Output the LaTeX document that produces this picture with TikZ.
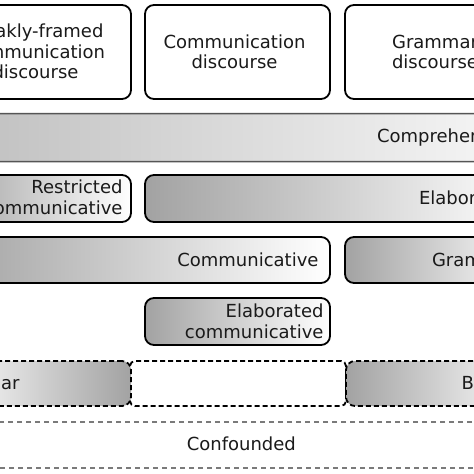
\documentclass[tikz,border=0pt]{standalone}
\usepackage{fontspec}
\setmainfont{DejaVu Sans}
\definecolor{gdark}{HTML}{A2A2A2}
\definecolor{glight}{HTML}{FFFFFF}
\definecolor{cleft}{HTML}{BEBEBE}
\definecolor{cright}{HTML}{F8F8F8}
\definecolor{cborder}{HTML}{555555}
\definecolor{txt}{HTML}{1A1A1A}
\definecolor{confgray}{HTML}{7A7A7A}
\begin{document}
\begin{tikzpicture}[x=1pt,y=-1pt,
  boxbase/.style={inner sep=0pt, outer sep=0pt, anchor=north west},
  solidbox/.style={boxbase, draw=black, line width=1.8pt, rounded corners=9pt},
  shadebox/.style={solidbox, left color=gdark, right color=glight},
  revbox/.style={solidbox, left color=glight, right color=gdark},
  dashbox/.style={dash pattern=on 5pt off 3pt},
  compbox/.style={boxbase, draw=cborder, line width=1.5pt, rounded corners=6pt, left color=cleft, right color=cright},
  confbox/.style={boxbase, draw=confgray, line width=1.3pt, dash pattern=on 5pt off 4pt},
  lbl/.style={inner sep=0pt, outer sep=0pt, text=txt, font=\fontsize{18}{20.7}\selectfont},
]
\useasboundingbox (0,0) rectangle (474,474);
\fill[white] (0,0) rectangle (474,474);
\clip (0,0) rectangle (474,474);

% top row
\node[solidbox, minimum width=184pt, minimum height=94pt] (wf) at (-53,5) {};
\node[solidbox, minimum width=185pt, minimum height=94pt] (cd) at (145,5) {};
\node[solidbox, minimum width=183pt, minimum height=94pt] (gd) at (345,5) {};
\node[lbl, align=center] (wft) at (35.5,51.3) {Weakly-framed\\communication\\discourse};
\node[lbl, align=center] (cdt) at (234.5,51.8) {Communication\\discourse};
\node[lbl, align=center] (gdt) at (435,51.8) {Grammar\\discourse};

% comprehensive
\node[compbox, minimum width=590pt, minimum height=48pt] (comp) at (-58,113.5) {};
\node[lbl, anchor=base west] (compt) at (377,142.3) {Comprehensive};

% row 2
\node[shadebox, minimum width=184pt, minimum height=47pt] (rc) at (-53,175) {};
\node[shadebox, minimum width=385pt, minimum height=47pt] (el) at (145,175) {};
\node[lbl, align=right, anchor=east] (rct) at (122.5,197) {Restricted\\communicative};
\node[lbl, anchor=base west] (elt) at (419,204.3) {Elaborated};

% row 3
\node[shadebox, minimum width=383pt, minimum height=46pt] (cm) at (-53,237) {};
\node[shadebox, minimum width=185pt, minimum height=46pt] (gr) at (345,237) {};
\node[lbl, anchor=base east] (cmt) at (318.5,266.6) {Communicative};
\node[lbl, anchor=base west] (grt) at (432,266.6) {Grammar};

% row 4
\node[shadebox, minimum width=185pt, minimum height=47pt] (ec) at (145,298) {};
\node[lbl, align=right, anchor=east] (ect) at (323.5,321) {Elaborated\\communicative};

% dashed row
\node[solidbox, dashbox, rounded corners=5pt, fill=white, minimum width=216pt, minimum height=45pt] (mid) at (130,361) {};
\node[revbox, dashbox, minimum width=184pt, minimum height=45pt] (la) at (-53,361) {};
\node[shadebox, dashbox, minimum width=184pt, minimum height=45pt] (rb) at (346,361) {};
\node[lbl, anchor=base east] (lat) at (19.5,389.3) {ar};
\node[lbl, anchor=base west] (rbt) at (461.5,389.8) {B};

% confounded
\node[confbox, minimum width=600pt, minimum height=46pt] (cf) at (-63,422) {};
\node[lbl, anchor=base] (cft) at (241.3,450.6) {Confounded};
\end{tikzpicture}
\end{document}
